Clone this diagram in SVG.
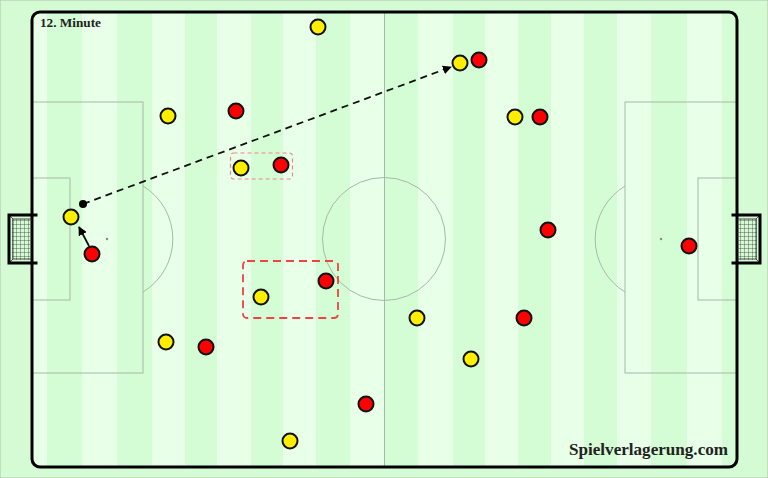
<svg xmlns="http://www.w3.org/2000/svg" width="768" height="478" viewBox="0 0 768 478">
<defs>
<style>
.line{fill:none;stroke:#a8b8a8;stroke-width:1}
.dk{fill:#d5fdd5}
.y{fill:#ffee00;stroke:#111;stroke-width:2}
.r{fill:#ff0000;stroke:#111;stroke-width:2}
.net{stroke:#222;stroke-width:0.8;fill:none}
.post{stroke:#000;stroke-width:3;fill:none;stroke-linecap:square}
.lbl{font-family:"Liberation Serif","DejaVu Serif",serif;font-weight:bold;fill:#222}
</style>
<pattern id="netp" x="0" y="0" width="4" height="4" patternUnits="userSpaceOnUse">
<path d="M0 0.25H4M0.25 0V4" stroke="#333" stroke-width="0.5"/>
</pattern>
<marker id="ah" viewBox="0 0 10 10" refX="9" refY="5" markerWidth="5" markerHeight="5" orient="auto">
<path d="M0 0L10 5L0 10z" fill="#000"/>
</marker>
</defs>
<rect x="0" y="0" width="768" height="478" fill="#d5fbd5" stroke="#b0c0b0" stroke-width="1"/>
<g id="pitch">
<rect x="32" y="12" width="705" height="455" rx="8" fill="#e8ffe8"/>
<rect class="dk" x="47" y="12" width="35" height="455"/>
<rect class="dk" x="117" y="12" width="35" height="455"/>
<rect class="dk" x="185" y="12" width="32" height="455"/>
<rect class="dk" x="251" y="12" width="32" height="455"/>
<rect class="dk" x="316" y="12" width="34" height="455"/>
<rect class="dk" x="384" y="12" width="34" height="455"/>
<rect class="dk" x="453" y="12" width="32" height="455"/>
<rect class="dk" x="518" y="12" width="33" height="455"/>
<rect class="dk" x="584" y="12" width="33" height="455"/>
<rect class="dk" x="651" y="12" width="36" height="455"/>
<rect class="dk" x="722" y="12" width="15" height="455"/>
<line class="line" x1="384.5" y1="12" x2="384.5" y2="467"/>
<circle class="line" cx="384" cy="239" r="61.5"/>
<rect class="line" x="32" y="102" width="111" height="271"/>
<rect class="line" x="32" y="178" width="38" height="122"/>
<path class="line" d="M143 186 A62 62 0 0 1 143 292"/>
<circle cx="107" cy="239" r="1.2" fill="#888"/>
<rect class="line" x="625" y="102" width="112" height="271"/>
<rect class="line" x="698" y="178" width="39" height="122"/>
<path class="line" d="M625 186 A62 62 0 0 0 625 292"/>
<circle cx="661" cy="239" r="1.2" fill="#888"/>
<rect x="32" y="12" width="705" height="455" rx="8" fill="none" stroke="#000" stroke-width="3"/>
</g>
<g id="goal-left">
<rect x="12" y="219" width="20" height="41" fill="url(#netp)"/>
<path class="net" d="M9 215L13 219V259L9 263M13 219H32M13 259H32"/>
<path class="post" d="M9 215H36M9 263H36M9 215V263"/>
</g>
<g id="goal-right">
<rect x="737" y="219" width="20" height="41" fill="url(#netp)"/>
<path class="net" d="M760 215L756 219V259L760 263M756 219H737M756 259H737"/>
<path class="post" d="M733 215H760M733 263H760M760 215V263"/>
</g>
<g id="highlights">
<rect x="230.5" y="153" width="62" height="26" rx="3" fill="none" stroke="#f08585" stroke-width="1.2" stroke-dasharray="4,3"/>
<rect x="243" y="261" width="95" height="57" rx="4" fill="none" stroke="#ee4444" stroke-width="1.8" stroke-dasharray="8,5"/>
</g>
<g id="connectors">
<line x1="83" y1="204" x2="451" y2="67" stroke="#111" stroke-width="1.8" stroke-dasharray="7,5" marker-end="url(#ah)"/>
<line x1="89" y1="246" x2="79" y2="227" stroke="#111" stroke-width="1.8" marker-end="url(#ah)"/>
</g>
<g id="ball"><circle cx="83" cy="204" r="4" fill="#000"/></g>
<g id="yellow">
<circle class="y" cx="318" cy="27" r="7.5"/>
<circle class="y" cx="168" cy="116" r="7.5"/>
<circle class="y" cx="241" cy="168" r="7.5"/>
<circle class="y" cx="71" cy="217" r="7.5"/>
<circle class="y" cx="261" cy="297" r="7.5"/>
<circle class="y" cx="166" cy="342" r="7.5"/>
<circle class="y" cx="290" cy="441" r="7.5"/>
<circle class="y" cx="460" cy="63" r="7.5"/>
<circle class="y" cx="515" cy="117" r="7.5"/>
<circle class="y" cx="417" cy="318" r="7.5"/>
<circle class="y" cx="471" cy="359" r="7.5"/>
</g>
<g id="red">
<circle class="r" cx="236" cy="111" r="7.5"/>
<circle class="r" cx="281" cy="165" r="7.5"/>
<circle class="r" cx="92" cy="254" r="7.5"/>
<circle class="r" cx="326" cy="281" r="7.5"/>
<circle class="r" cx="206" cy="347" r="7.5"/>
<circle class="r" cx="366" cy="404" r="7.5"/>
<circle class="r" cx="479" cy="60" r="7.5"/>
<circle class="r" cx="540" cy="117" r="7.5"/>
<circle class="r" cx="548" cy="230" r="7.5"/>
<circle class="r" cx="524" cy="318" r="7.5"/>
<circle class="r" cx="689" cy="246" r="7.5"/>
</g>
<g id="labels">
<text class="lbl" x="40" y="27" font-size="13" textLength="61" lengthAdjust="spacingAndGlyphs">12. Minute</text>
<text class="lbl" x="569" y="455" font-size="16.5" textLength="159" lengthAdjust="spacingAndGlyphs">Spielverlagerung.com</text>
</g>
</svg>
